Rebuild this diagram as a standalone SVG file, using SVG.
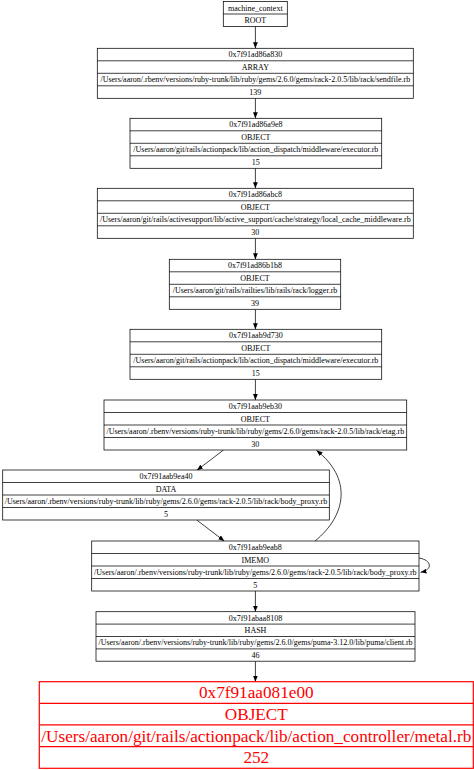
<svg xmlns="http://www.w3.org/2000/svg" width="474" height="770" viewBox="0 0 474 770">
<style>
.b{fill:#fff;stroke:#000;stroke-width:0.75}
.d{stroke:#000;stroke-width:0.75}
.t{font-family:"Liberation Serif","Times New Roman",serif;font-size:8px;fill:#000;text-anchor:middle}
.rb{fill:#fff;stroke:#f00;stroke-width:1.2}
.rd{stroke:#f00;stroke-width:1.2}
.rt{font-family:"Liberation Serif","Times New Roman",serif;font-size:17.2px;fill:#f00;text-anchor:middle}
.e{fill:none;stroke:#000;stroke-width:0.75}
</style>
<defs>
<marker id="ah" viewBox="0 0 10 8" refX="10" refY="4" markerWidth="6" markerHeight="4.8" markerUnits="userSpaceOnUse" orient="auto">
<path d="M0,0 L10,4 L0,8 Z" fill="#000"/>
</marker>
</defs>
<rect width="474" height="770" fill="#fff"/>
<g id="edges">
<line class="e" x1="255.4" y1="26.5" x2="255.4" y2="48.3" marker-end="url(#ah)"/>
<line class="e" x1="255.4" y1="98.3" x2="255.4" y2="118.3" marker-end="url(#ah)"/>
<line class="e" x1="255.4" y1="168.3" x2="255.4" y2="188.3" marker-end="url(#ah)"/>
<line class="e" x1="255.4" y1="238.3" x2="255.4" y2="259.3" marker-end="url(#ah)"/>
<line class="e" x1="255.4" y1="309.3" x2="255.4" y2="329.3" marker-end="url(#ah)"/>
<line class="e" x1="255.4" y1="379.3" x2="255.4" y2="400" marker-end="url(#ah)"/>
<line class="e" x1="223.5" y1="450" x2="197" y2="470.2" marker-end="url(#ah)"/>
<line class="e" x1="196.7" y1="520" x2="224.3" y2="541" marker-end="url(#ah)"/>
<path class="e" d="M315,541 C347,515 352,478 316.5,450.5" marker-end="url(#ah)"/>
<path class="e" d="M419,558 C432,560 433,570 420.5,572.3" marker-end="url(#ah)"/>
<line class="e" x1="255.4" y1="590.7" x2="255.4" y2="611.7" marker-end="url(#ah)"/>
<line class="e" x1="255.4" y1="661.2" x2="255.4" y2="681.7" marker-end="url(#ah)"/>
</g>
<g id="root">
<rect class="b" x="223.3" y="1.5" width="64" height="25"/>
<line class="d" x1="223.3" y1="14" x2="287.3" y2="14"/>
<text class="t" x="255.3" y="10.5">machine_context</text>
<text class="t" x="255.3" y="23">ROOT</text>
</g>
<g id="n1">
<rect class="b" x="97.3" y="48.3" width="316" height="50"/>
<line class="d" x1="97.3" y1="60.8" x2="413.3" y2="60.8"/>
<line class="d" x1="97.3" y1="73.3" x2="413.3" y2="73.3"/>
<line class="d" x1="97.3" y1="85.8" x2="413.3" y2="85.8"/>
<text class="t" x="255.3" y="57.3">0x7f91ad86a830</text>
<text class="t" x="255.3" y="69.8">ARRAY</text>
<text class="t" x="255.3" y="82.3">/Users/aaron/.rbenv/versions/ruby-trunk/lib/ruby/gems/2.6.0/gems/rack-2.0.5/lib/rack/sendfile.rb</text>
<text class="t" x="255.3" y="94.8">139</text>
</g>
<g id="n2">
<rect class="b" x="130" y="118.3" width="251.7" height="50"/>
<line class="d" x1="130" y1="130.8" x2="381.7" y2="130.8"/>
<line class="d" x1="130" y1="143.3" x2="381.7" y2="143.3"/>
<line class="d" x1="130" y1="155.8" x2="381.7" y2="155.8"/>
<text class="t" x="255.8" y="127.3">0x7f91ad86a9e8</text>
<text class="t" x="255.8" y="139.8">OBJECT</text>
<text class="t" x="255.8" y="152.3">/Users/aaron/git/rails/actionpack/lib/action_dispatch/middleware/executor.rb</text>
<text class="t" x="255.8" y="164.8">15</text>
</g>
<g id="n3">
<rect class="b" x="97.3" y="188.3" width="316" height="50"/>
<line class="d" x1="97.3" y1="200.8" x2="413.3" y2="200.8"/>
<line class="d" x1="97.3" y1="213.3" x2="413.3" y2="213.3"/>
<line class="d" x1="97.3" y1="225.8" x2="413.3" y2="225.8"/>
<text class="t" x="255.3" y="197.3">0x7f91ad86abc8</text>
<text class="t" x="255.3" y="209.8">OBJECT</text>
<text class="t" x="255.3" y="222.3">/Users/aaron/git/rails/activesupport/lib/active_support/cache/strategy/local_cache_middleware.rb</text>
<text class="t" x="255.3" y="234.8">30</text>
</g>
<g id="n4">
<rect class="b" x="169.3" y="259.3" width="171.4" height="50"/>
<line class="d" x1="169.3" y1="271.8" x2="340.7" y2="271.8"/>
<line class="d" x1="169.3" y1="284.3" x2="340.7" y2="284.3"/>
<line class="d" x1="169.3" y1="296.8" x2="340.7" y2="296.8"/>
<text class="t" x="255" y="268.3">0x7f91ad86b1b8</text>
<text class="t" x="255" y="280.8">OBJECT</text>
<text class="t" x="255" y="293.3">/Users/aaron/git/rails/railties/lib/rails/rack/logger.rb</text>
<text class="t" x="255" y="305.8">39</text>
</g>
<g id="n5">
<rect class="b" x="130" y="329.3" width="251.7" height="50"/>
<line class="d" x1="130" y1="341.8" x2="381.7" y2="341.8"/>
<line class="d" x1="130" y1="354.3" x2="381.7" y2="354.3"/>
<line class="d" x1="130" y1="366.8" x2="381.7" y2="366.8"/>
<text class="t" x="255.8" y="338.3">0x7f91aab9d730</text>
<text class="t" x="255.8" y="350.8">OBJECT</text>
<text class="t" x="255.8" y="363.3">/Users/aaron/git/rails/actionpack/lib/action_dispatch/middleware/executor.rb</text>
<text class="t" x="255.8" y="375.8">15</text>
</g>
<g id="n6">
<rect class="b" x="104" y="400" width="302.7" height="50"/>
<line class="d" x1="104" y1="412.5" x2="406.7" y2="412.5"/>
<line class="d" x1="104" y1="425" x2="406.7" y2="425"/>
<line class="d" x1="104" y1="437.5" x2="406.7" y2="437.5"/>
<text class="t" x="255.3" y="409">0x7f91aab9eb30</text>
<text class="t" x="255.3" y="421.5">OBJECT</text>
<text class="t" x="255.3" y="434">/Users/aaron/.rbenv/versions/ruby-trunk/lib/ruby/gems/2.6.0/gems/rack-2.0.5/lib/rack/etag.rb</text>
<text class="t" x="255.3" y="446.5">30</text>
</g>
<g id="n7">
<rect class="b" x="2.7" y="470" width="326.6" height="50"/>
<line class="d" x1="2.7" y1="482.5" x2="329.3" y2="482.5"/>
<line class="d" x1="2.7" y1="495" x2="329.3" y2="495"/>
<line class="d" x1="2.7" y1="507.5" x2="329.3" y2="507.5"/>
<text class="t" x="166" y="479">0x7f91aab9ea40</text>
<text class="t" x="166" y="491.5">DATA</text>
<text class="t" x="166" y="504">/Users/aaron/.rbenv/versions/ruby-trunk/lib/ruby/gems/2.6.0/gems/rack-2.0.5/lib/rack/body_proxy.rb</text>
<text class="t" x="166" y="516.5">5</text>
</g>
<g id="n8">
<rect class="b" x="91.7" y="541" width="327.3" height="50"/>
<line class="d" x1="91.7" y1="553.5" x2="419" y2="553.5"/>
<line class="d" x1="91.7" y1="566" x2="419" y2="566"/>
<line class="d" x1="91.7" y1="578.5" x2="419" y2="578.5"/>
<text class="t" x="255.3" y="550">0x7f91aab9eab8</text>
<text class="t" x="255.3" y="562.5">IMEMO</text>
<text class="t" x="255.3" y="575">/Users/aaron/.rbenv/versions/ruby-trunk/lib/ruby/gems/2.6.0/gems/rack-2.0.5/lib/rack/body_proxy.rb</text>
<text class="t" x="255.3" y="587.5">5</text>
</g>
<g id="n9">
<rect class="b" x="96" y="611.7" width="319" height="49.5"/>
<line class="d" x1="96" y1="624.1" x2="415" y2="624.1"/>
<line class="d" x1="96" y1="636.5" x2="415" y2="636.5"/>
<line class="d" x1="96" y1="648.9" x2="415" y2="648.9"/>
<text class="t" x="255.5" y="620.6">0x7f91abaa8108</text>
<text class="t" x="255.5" y="633">HASH</text>
<text class="t" x="255.5" y="645.4">/Users/aaron/.rbenv/versions/ruby-trunk/lib/ruby/gems/2.6.0/gems/puma-3.12.0/lib/puma/client.rb</text>
<text class="t" x="255.5" y="657.8">46</text>
</g>
<g id="n10">
<rect class="rb" x="39.3" y="681.7" width="434" height="86.6"/>
<line class="rd" x1="39.3" y1="703.3" x2="473.3" y2="703.3"/>
<line class="rd" x1="39.3" y1="724.9" x2="473.3" y2="724.9"/>
<line class="rd" x1="39.3" y1="746.6" x2="473.3" y2="746.6"/>
<text class="rt" x="256.3" y="698.3">0x7f91aa081e00</text>
<text class="rt" x="256.3" y="719.9">OBJECT</text>
<text class="rt" x="256.3" y="741.5">/Users/aaron/git/rails/actionpack/lib/action_controller/metal.rb</text>
<text class="rt" x="256.3" y="763.2">252</text>
</g>
</svg>
